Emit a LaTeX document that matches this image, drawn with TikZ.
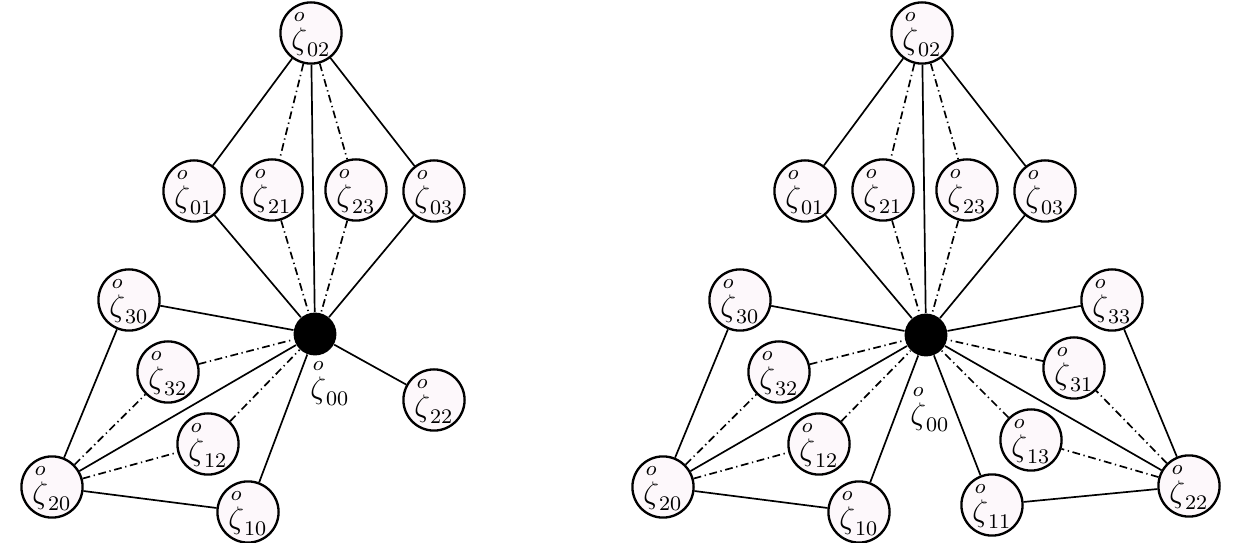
\documentclass[tikz,border=0pt]{standalone}
\usepackage{amsmath}
\definecolor{nodefill}{RGB}{253,248,251}
\tikzset{
  zn/.style={circle, draw, line width=0.9pt, fill=nodefill, minimum size=23.3pt, inner sep=0pt, font=\fontsize{12pt}{14pt}\selectfont},
  hub/.style={circle, fill=black, minimum size=16.5pt, inner sep=0pt},
  lab/.style={inner sep=0pt, font=\fontsize{12pt}{14pt}\selectfont},
  edge/.style={line width=0.65pt},
  dd/.style={line width=0.65pt, dash pattern=on 3pt off 1.4pt on 0.5pt off 1.4pt},
}
\newcommand{\zlab}[1]{$\overset{o}{\zeta}_{#1}$}
\begin{document}
\begin{tikzpicture}[x=0.385pt,y=-0.385pt]
\useasboundingbox (0,0) rectangle (1253,543);
% ---------- left ----------
\node[hub] (L00) at (315,334) {};
\node[lab] (L00t) at (330,382) {\zlab{00}};
\node[zn] (L02) at (311,33) {\zlab{02}};
\node[zn] (L01) at (194,191) {\zlab{01}};
\node[zn] (L21) at (272,190) {\zlab{21}};
\node[zn] (L23) at (356,190) {\zlab{23}};
\node[zn] (L03) at (434,191) {\zlab{03}};
\node[zn] (L30) at (129,300) {\zlab{30}};
\node[zn] (L32) at (168,372) {\zlab{32}};
\node[zn] (L12) at (208,444) {\zlab{12}};
\node[zn] (L20) at (52,487) {\zlab{20}};
\node[zn] (L10) at (248,512) {\zlab{10}};
\node[zn] (L22) at (434,400) {\zlab{22}};
\draw[edge] (L02) -- (L01);
\draw[dd] (L02) -- (L21);
\draw[edge] (L02) -- (L00);
\draw[dd] (L02) -- (L23);
\draw[edge] (L02) -- (L03);
\draw[edge] (L01) -- (L00);
\draw[dd] (L21) -- (L00);
\draw[dd] (L23) -- (L00);
\draw[edge] (L03) -- (L00);
\draw[edge] (L30) -- (L00);
\draw[dd] (L32) -- (L00);
\draw[edge] (L20) -- (L00);
\draw[dd] (L12) -- (L00);
\draw[edge] (L10) -- (L00);
\draw[edge] (L22) -- (L00);
\draw[edge] (L20) -- (L30);
\draw[dd] (L20) -- (L32);
\draw[dd] (L20) -- (L12);
\draw[edge] (L20) -- (L10);
% ---------- right ----------
\node[hub] (R00) at (926,335) {};
\node[lab] (R00t) at (930,408) {\zlab{00}};
\node[zn] (R02) at (922,33) {\zlab{02}};
\node[zn] (R01) at (805,191) {\zlab{01}};
\node[zn] (R21) at (883,190) {\zlab{21}};
\node[zn] (R23) at (967,190) {\zlab{23}};
\node[zn] (R03) at (1045,191) {\zlab{03}};
\node[zn] (R30) at (740,300) {\zlab{30}};
\node[zn] (R32) at (779,372) {\zlab{32}};
\node[zn] (R12) at (819,444) {\zlab{12}};
\node[zn] (R20) at (663,487) {\zlab{20}};
\node[zn] (R10) at (859,512) {\zlab{10}};
\node[zn] (R33) at (1112,300) {\zlab{33}};
\node[zn] (R31) at (1074,368) {\zlab{31}};
\node[zn] (R13) at (1031,440) {\zlab{13}};
\node[zn] (R11) at (992,505) {\zlab{11}};
\node[zn] (R22) at (1189,486) {\zlab{22}};
\draw[edge] (R02) -- (R01);
\draw[dd] (R02) -- (R21);
\draw[edge] (R02) -- (R00);
\draw[dd] (R02) -- (R23);
\draw[edge] (R02) -- (R03);
\draw[edge] (R01) -- (R00);
\draw[dd] (R21) -- (R00);
\draw[dd] (R23) -- (R00);
\draw[edge] (R03) -- (R00);
\draw[edge] (R30) -- (R00);
\draw[dd] (R32) -- (R00);
\draw[edge] (R20) -- (R00);
\draw[dd] (R12) -- (R00);
\draw[edge] (R10) -- (R00);
\draw[edge] (R20) -- (R30);
\draw[dd] (R20) -- (R32);
\draw[dd] (R20) -- (R12);
\draw[edge] (R20) -- (R10);
\draw[edge] (R33) -- (R00);
\draw[dd] (R31) -- (R00);
\draw[edge] (R22) -- (R00);
\draw[dd] (R13) -- (R00);
\draw[edge] (R11) -- (R00);
\draw[edge] (R22) -- (R33);
\draw[dd] (R22) -- (R31);
\draw[dd] (R22) -- (R13);
\draw[edge] (R22) -- (R11);
\end{tikzpicture}
\end{document}
